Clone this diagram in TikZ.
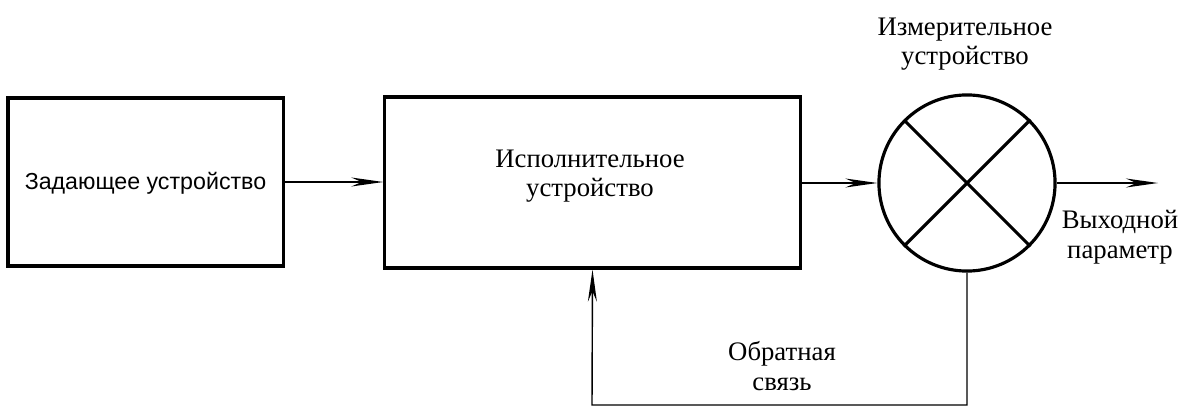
\documentclass[tikz,border=0pt]{standalone}
\usepackage{fontspec}
\setmainfont{Liberation Serif}
\setsansfont{Liberation Sans}
\usetikzlibrary{arrows.meta}
\begin{document}
\begin{tikzpicture}[x=0.01cm,y=-0.01cm,
  blk/.style={draw,line width=0.9pt,inner sep=0},
  arr/.style={line width=0.4pt,-{Stealth[length=0.32cm,width=0.09cm]}},
  lbl/.style={font=\fontsize{7.6}{8.4}\selectfont,align=center}]
\useasboundingbox (0,0) rectangle (1200,415);
\node[blk,minimum width=2.75cm,minimum height=1.68cm] (b1) at (145.5,182) {};
\node[font=\sffamily\fontsize{6.6}{8}\selectfont] at (145.5,183) {Задающее устройство};
\node[blk,minimum width=4.15cm,minimum height=1.71cm] (b2) at (592.5,182.5) {};
\node[lbl] at (590,176) {Исполнительное\\устройство};
\node[blk,circle,minimum size=1.76cm] (c) at (967,183) {};
\draw[line width=0.9pt] (c.north east) -- (c.south west) (c.north west) -- (c.south east);
\node[lbl] at (965,44) {Измерительное\\устройство};
\coordinate (out) at (1158,183);
\node[lbl] at (1120,237) {Выходной\\параметр};
\draw[arr] (b1.east) -- (b2.west |- b1.east);
\draw[arr] (b2.east |- c) -- (c.west);
\draw[arr] (c.east) -- (out);
\coordinate (fb) at (592,405);
\draw[arr] (c.south) |- (fb) -- (b2.south);
\node[lbl] at (782,366) {Обратная\\связь};
\end{tikzpicture}
\end{document}
